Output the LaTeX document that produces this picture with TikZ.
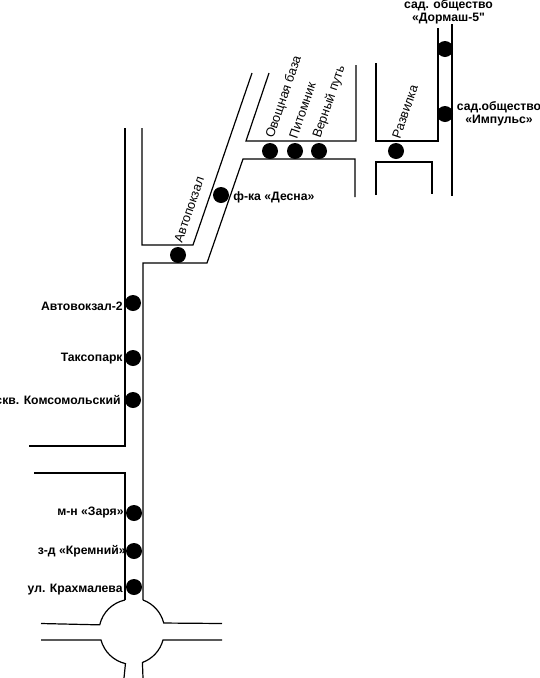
\documentclass[tikz,border=0pt]{standalone}
\usepackage{fontspec}
\setmainfont{Liberation Sans}[Ligatures=TeXOff]
\usetikzlibrary{positioning}

\begin{document}
\begin{tikzpicture}[
    x=1pt, y=-1pt,
    road/.style={draw, line width=1.2pt, line join=miter},
    stopdot/.style={
        circle,
        fill=black,
        minimum size=16pt,  % Size of the bus stop mark
        inner sep=0pt
    },
    stopname/.style={font=\bfseries\fontsize{12.2}{13.5}\selectfont, inner sep=0pt, align=center},
    turnname/.style={font=\fontsize{12.8}{14}\selectfont, inner sep=0pt, rotate=71, anchor=west}
]
\useasboundingbox (0,0) rectangle (540,678);

% Main road
\draw[road] (125,128) -- (125,446) -- (29,446);
\draw[road] (34,473) -- (125,473) -- (125,600);
\draw[road] (143,600) -- (143,263) -- (207,263) -- (243,159) -- (355,159) -- (355,197);
\draw[road] (142,128) -- (142,245) -- (193,245) -- (252,73);
\draw[road] (269,73) -- (246,141) -- (356,141) -- (356,65);

% Upper right roads
\draw[road] (376,63) -- (376,141) -- (438,141) -- (438,28);
\draw[road] (452,24) -- (452,196);
\draw[road] (376,195) -- (376,162) -- (432,162) -- (432,194);

% Roundabout
\draw[road] (125,600) arc[start angle=102, end angle=167, radius=33pt] -- (41,623.5);
\draw[road] (143,600) arc[start angle=70, end angle=14, radius=33pt] -- (222,623.5);
\draw[road] (41,640) -- (101,640) arc[start angle=195, end angle=257, radius=33pt] -- (124,678);
\draw[road] (222,640) -- (163,640) arc[start angle=-15, end angle=-70, radius=33pt] -- (143,678);

% Stops
\node[stopdot] (dormash) at (445,49) {};
\node[stopdot] (impuls) at (445,114) {};
\node[stopdot] (razvilka) at (396,151) {};
\node[stopdot] (verny) at (319,151) {};
\node[stopdot] (pitomnik) at (295,151) {};
\node[stopdot] (ovoshch) at (270,151) {};
\node[stopdot] (desna) at (221,195) {};
\node[stopdot] (avtopokzal) at (178,255) {};
\node[stopdot] (avtovokzal) at (133,303) {};
\node[stopdot] (taksopark) at (133,358) {};
\node[stopdot] (skver) at (133,400) {};
\node[stopdot] (zarya) at (134,513) {};
\node[stopdot] (kremny) at (134,551) {};
\node[stopdot] (krakhmal) at (134,587) {};

% Names
\node[stopname] (dormashname) at (448.5,12) {сад. общество\\«Дормаш-5"};
\node[stopname] (impulsname) at (499,114) {сад.общество\\«Импульс»};
\node[stopname, right=4pt of desna, yshift=-2pt] (desnaname) {ф-ка «Десна»};
\node[stopname, left=2pt of avtovokzal, yshift=-3pt] (avtovokzalname) {Автовокзал-2};
\node[stopname, left=2pt of taksopark, yshift=-1pt] (taksoparkname) {Таксопарк};
\node[stopname, left=4pt of skver] (skvername) {скв. Комсомольский};
\node[stopname, left=2pt of zarya] (zaryaname) {м-н «Заря»};
\node[stopname, left=0pt of kremny] (kremnyname) {з-д «Кремний»};
\node[stopname, left=3pt of krakhmal, yshift=-3pt] (krakhmalname) {ул. Крахмалева};
\node[turnname] (razvilkaname) at (396,138) {Развилка};
\node[turnname] (vernyname) at (317,138) {Верный путь};
\node[turnname] (pitomnikname) at (293,138) {Питомник};
\node[turnname] (ovoshchname) at (270,138) {Овощная база};
\node[turnname] (avtopokzalname) at (178,242) {Автопокзал};
\end{tikzpicture}
\end{document}
